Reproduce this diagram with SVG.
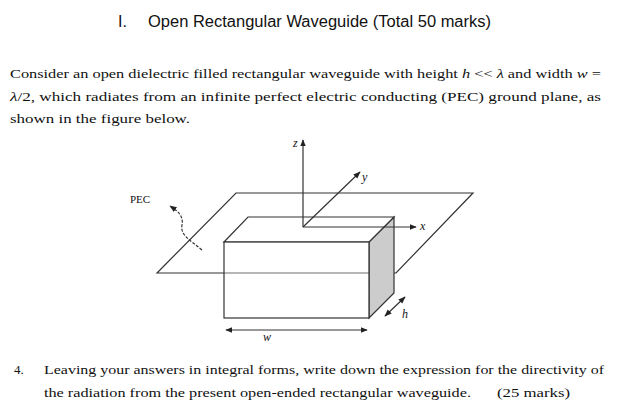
<svg xmlns="http://www.w3.org/2000/svg" width="622" height="414" viewBox="0 0 622 414">
<style>
.t{font-family:"Liberation Serif",serif;font-size:13px;fill:#111}
.ln{stroke:#333;stroke-width:1.2;fill:none}
.lb{font-family:"Liberation Serif",serif;font-style:italic;font-size:12px;fill:#111}
</style>
<defs>
<marker id="a" viewBox="0 0 10 10" refX="9" refY="5" markerWidth="6" markerHeight="6" orient="auto-start-reverse"><path d="M0,1 L10,5 L0,9 z" fill="#222"/></marker>
</defs>
<rect width="622" height="414" fill="#fff"/>
<text x="118" y="27" font-family="Liberation Sans,sans-serif" font-size="16" fill="#111">I.</text>
<text x="148" y="27" font-family="Liberation Sans,sans-serif" font-size="16" fill="#111" textLength="343" lengthAdjust="spacingAndGlyphs">Open Rectangular Waveguide (Total 50 marks)</text>
<text class="t" x="10" y="78" textLength="591" lengthAdjust="spacingAndGlyphs">Consider an open dielectric filled rectangular waveguide with height <tspan font-style="italic">h</tspan> &lt;&lt; <tspan font-style="italic">λ</tspan> and width <tspan font-style="italic">w</tspan> =</text>
<text class="t" x="10" y="101" textLength="591" lengthAdjust="spacingAndGlyphs"><tspan font-style="italic">λ</tspan>/2, which radiates from an infinite perfect electric conducting (PEC) ground plane, as</text>
<text class="t" x="10" y="123" textLength="180" lengthAdjust="spacingAndGlyphs">shown in the figure below.</text>
<g id="plane"><polygon class="ln" points="236,193 473,193 396,273 157,273"/></g>
<g id="box">
<polygon points="369,242 394,217 394,293 369,318" fill="#ccc" stroke="#333" stroke-width="1.2"/>
<polygon points="224,242 248,217 394,217 369,242" fill="#fff" stroke="#333" stroke-width="1.2"/>
<rect x="224" y="242" width="145" height="76" fill="#fff" fill-opacity="0.85" stroke="#333" stroke-width="1.2"/>
<line class="ln" x1="224" y1="273" x2="369" y2="273" stroke-opacity="0.6"/>
</g>
<g id="connectors">
<line class="ln" x1="303" y1="227" x2="303" y2="140" marker-end="url(#a)"/>
<line class="ln" x1="303" y1="227" x2="416" y2="227" marker-end="url(#a)"/>
<line class="ln" x1="303" y1="227" x2="360" y2="172" marker-end="url(#a)"/>
<path class="ln" d="M202,250 C190,240 180,235 182,225 C184,215 176,210 170,206" stroke-dasharray="3,1.5" marker-end="url(#a)"/>
<line class="ln" x1="226" y1="330" x2="367" y2="330" marker-start="url(#a)" marker-end="url(#a)"/>
<line class="ln" x1="385" y1="316" x2="405" y2="297" marker-start="url(#a)" marker-end="url(#a)"/>
</g>
<text class="lb" x="293" y="147">z</text>
<text class="lb" x="362" y="181">y</text>
<text class="lb" x="420" y="230">x</text>
<text x="130" y="203" font-family="Liberation Serif,serif" font-size="11" fill="#111">PEC</text>
<text class="lb" x="263" y="341">w</text>
<text class="lb" x="402" y="318">h</text>
<text class="t" x="14" y="374">4.</text>
<text class="t" x="44" y="374" textLength="560" lengthAdjust="spacingAndGlyphs">Leaving your answers in integral forms, write down the expression for the directivity of</text>
<text class="t" x="44" y="397" textLength="427" lengthAdjust="spacingAndGlyphs">the radiation from the present open-ended rectangular waveguide.</text>
<text class="t" x="497" y="397" textLength="73" lengthAdjust="spacingAndGlyphs">(25 marks)</text>
</svg>
